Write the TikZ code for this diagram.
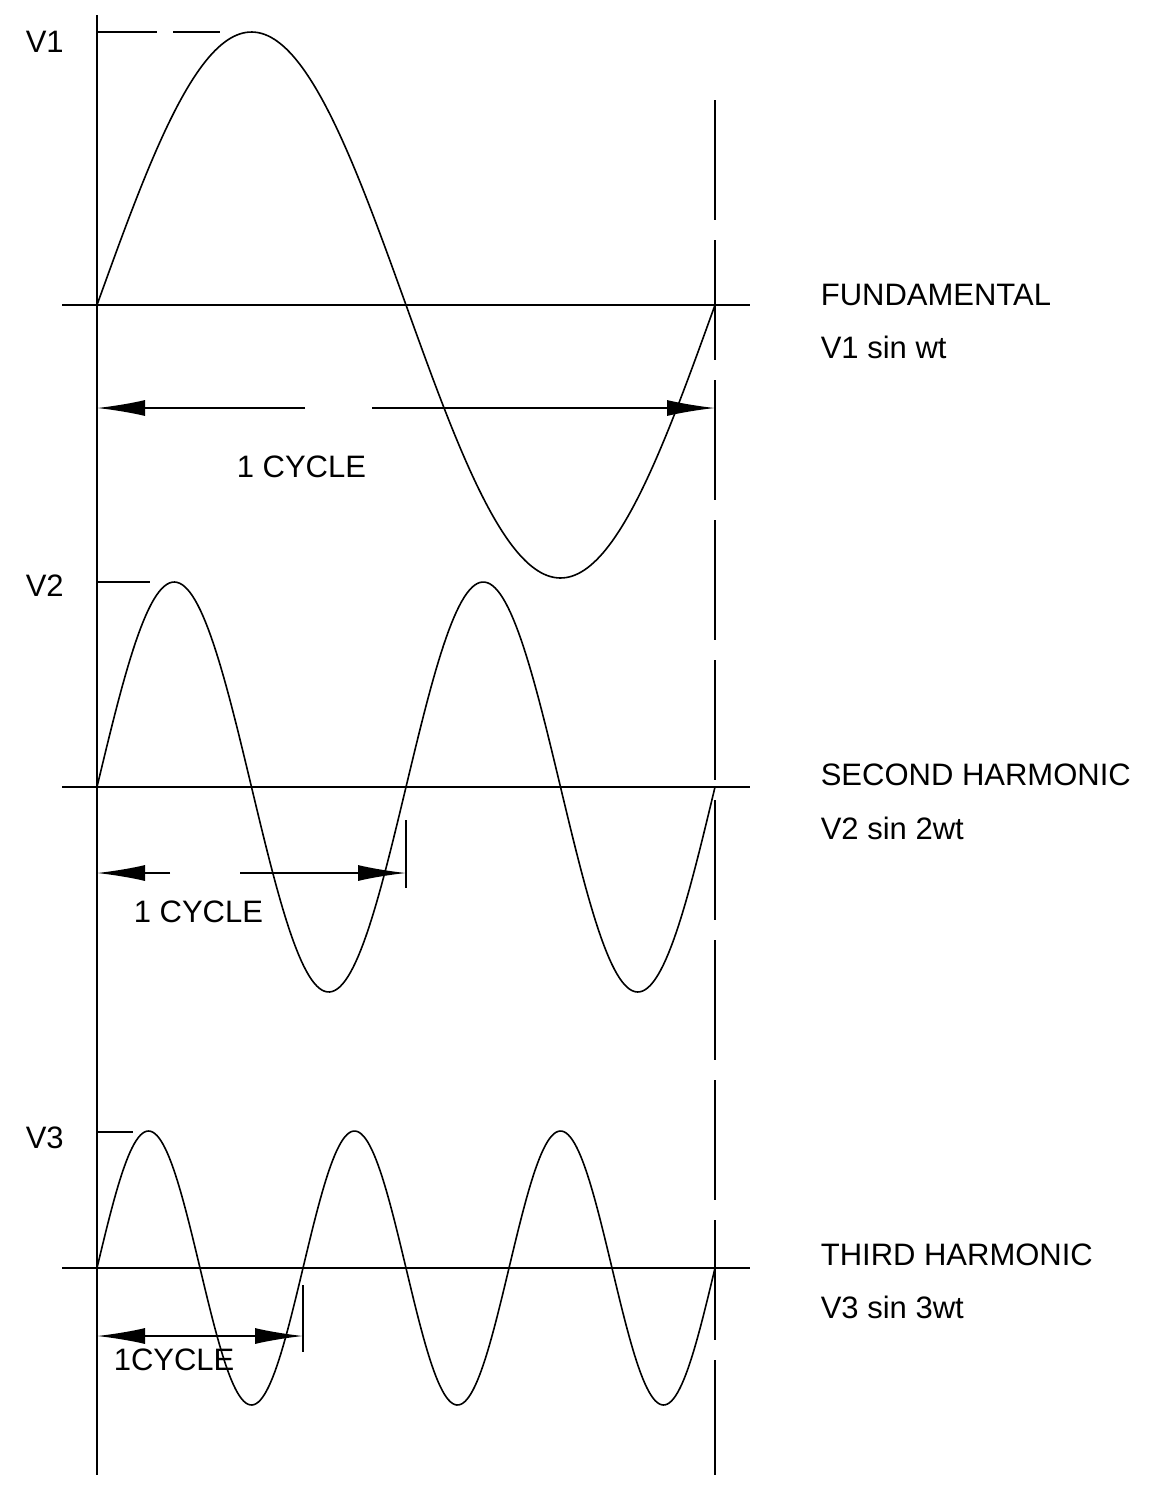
\documentclass[tikz,border=0pt]{standalone}
\usepackage{fontspec}
\setmainfont{Liberation Sans}
\usetikzlibrary{arrows.meta}
\begin{document}
\begin{tikzpicture}[x=0.5pt,y=-0.5pt,line width=0.8pt,
  lbl/.style={anchor=west,inner sep=0pt,font=\fontsize{15.5pt}{17pt}\selectfont},
  arr/.style={-{Latex[length=24pt,width=8pt]}},
  wave/.style={line width=0.8pt}]
\useasboundingbox (0,0) rectangle (1154,1488);
% axes
\draw (97,15) -- (97,1475);
\draw[dash pattern=on 60pt off 10pt] (715,100) -- (715,1475);
\foreach \y in {305,787,1268} \draw (62,\y) -- (750,\y);
% fundamental
\draw[wave] plot[domain=97:715,samples=200] (\x,{305-273*sin((\x-97)/618*360)});
\draw[dash pattern=on 30pt off 8pt] (97,32) -- (220,32);
\node[lbl] at (25,42) {V1};
\coordinate (a1) at (97,408); \coordinate (a1g) at (305,408);
\coordinate (a1h) at (372,408); \coordinate (a1e) at (715,408);
\draw[arr] (a1g) -- (a1); \draw[arr] (a1h) -- (a1e);
\node[lbl] at (236,467) {1 CYCLE};
\node[lbl] at (820,295) {FUNDAMENTAL};
\node[lbl] at (820,347) {V1 sin wt};
% second
\draw[wave] plot[domain=97:715,samples=240] (\x,{787-205*sin((\x-97)/309*360)});
\draw (97,582) -- (150,582);
\node[lbl] at (25,586) {V2};
\coordinate (b1) at (97,873); \coordinate (b1g) at (170,873);
\coordinate (b1h) at (240,873); \coordinate (b1e) at (406,873);
\draw[arr] (b1g) -- (b1); \draw[arr] (b1h) -- (b1e);
\draw (406,820) -- (406,888);
\node[lbl] at (133,912) {1 CYCLE};
\node[lbl] at (820,775) {SECOND HARMONIC};
\node[lbl] at (820,828) {V2 sin 2wt};
% third
\draw[wave] plot[domain=97:715,samples=300] (\x,{1268-137*sin((\x-97)/206*360)});
\draw (97,1132) -- (133,1132);
\node[lbl] at (25,1138) {V3};
\coordinate (c1) at (97,1336); \coordinate (c1m) at (200,1336);
\coordinate (c1e) at (303,1336);
\draw[arr] (c1m) -- (c1); \draw[arr] (c1m) -- (c1e);
\draw (303,1285) -- (303,1352);
\node[lbl] at (113,1360) {1CYCLE};
\node[lbl] at (820,1255) {THIRD HARMONIC};
\node[lbl] at (820,1307) {V3 sin 3wt};
\end{tikzpicture}
\end{document}
